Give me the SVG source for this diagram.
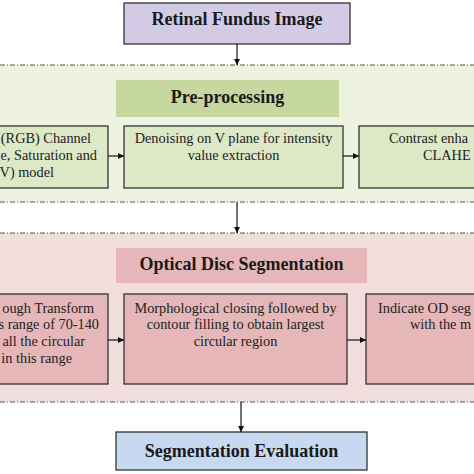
<svg xmlns="http://www.w3.org/2000/svg" width="474" height="474" viewBox="0 0 474 474">
<defs>
<marker id="ah" viewBox="0 0 10 10" refX="10" refY="5" markerWidth="6" markerHeight="6" markerUnits="userSpaceOnUse" orient="auto">
<path d="M0,0 L10,5 L0,10 z" fill="#111"/>
</marker>
<style>
.t{font-family:"Liberation Serif","Times New Roman",serif;font-size:14.3px;fill:#222}
.h{font-family:"Liberation Serif","Times New Roman",serif;font-size:18px;font-weight:bold;fill:#1a1a1a}
.box{stroke:#333;stroke-width:1.3}
.dash{stroke:#555;stroke-width:1;stroke-dasharray:5 2 1 2;fill:none}
.con{stroke:#111;stroke-width:1.2;fill:none;marker-end:url(#ah)}
</style>
</defs>
<rect width="474" height="474" fill="#ffffff"/>
<g id="preprocessing-region">
<rect x="0" y="65" width="474" height="137" fill="#eef2e1"/>
<line class="dash" x1="0" y1="65" x2="474" y2="65"/>
<line class="dash" x1="0" y1="202" x2="474" y2="202"/>
</g>
<g id="segmentation-region">
<rect x="0" y="233" width="474" height="169" fill="#f3dede"/>
<line class="dash" x1="0" y1="233" x2="474" y2="233"/>
<line class="dash" x1="0" y1="402" x2="474" y2="402"/>
</g>
<g id="retinal-fundus-image">
<rect class="box" x="124" y="3" width="226" height="41" fill="#d3cbe6"/>
<text class="h" x="237" y="25" text-anchor="middle">Retinal Fundus Image</text>
</g>
<g id="pre-processing-header">
<rect x="116" y="80" width="223" height="37" fill="#c6d8a0"/>
<text class="h" x="227.5" y="103" text-anchor="middle">Pre-processing</text>
</g>
<g id="hsv-convert">
<rect class="box" x="-20" y="126" width="128" height="62" fill="#dde8c7"/>
<text class="t" x="91" y="143" text-anchor="end">(RGB) Channel</text>
<text class="t" x="97" y="160" text-anchor="end">e, Saturation and</text>
<text class="t" x="54" y="177" text-anchor="end">V) model</text>
</g>
<g id="denoising">
<rect class="box" x="124" y="126" width="219" height="62" fill="#dde8c7"/>
<text class="t" x="233.5" y="143" text-anchor="middle">Denoising on V plane for intensity</text>
<text class="t" x="233.5" y="160" text-anchor="middle">value extraction</text>
</g>
<g id="clahe">
<rect class="box" x="359" y="126" width="140" height="62" fill="#dde8c7"/>
<text class="t" x="389" y="143">Contrast enha</text>
<text class="t" x="423" y="160">CLAHE</text>
</g>
<g id="od-header">
<rect x="116" y="248" width="251" height="35" fill="#e6b7b8"/>
<text class="h" x="241.5" y="270" text-anchor="middle">Optical Disc Segmentation</text>
</g>
<g id="hough">
<rect class="box" x="-20" y="294" width="128" height="90" fill="#e6b7b8"/>
<text class="t" x="94" y="313" text-anchor="end">ough Transform</text>
<text class="t" x="99" y="329" text-anchor="end">s range of 70-140</text>
<text class="t" x="85" y="346" text-anchor="end">all the circular</text>
<text class="t" x="72" y="363" text-anchor="end">in this range</text>
</g>
<g id="morphological">
<rect class="box" x="124" y="294" width="223" height="90" fill="#e6b7b8"/>
<text class="t" x="235.5" y="313" text-anchor="middle">Morphological closing followed by</text>
<text class="t" x="235.5" y="329" text-anchor="middle">contour filling to obtain largest</text>
<text class="t" x="235.5" y="346" text-anchor="middle">circular region</text>
</g>
<g id="indicate-od">
<rect class="box" x="366" y="294" width="140" height="90" fill="#e6b7b8"/>
<text class="t" x="378" y="313">Indicate OD seg</text>
<text class="t" x="410" y="329">with the m</text>
</g>
<g id="segmentation-evaluation">
<rect class="box" x="116" y="432" width="251" height="38" fill="#c6d9f0"/>
<text class="h" x="241.5" y="457" text-anchor="middle">Segmentation Evaluation</text>
</g>
<g id="connectors">
<line class="con" x1="237" y1="44" x2="237" y2="65"/>
<line class="con" x1="108" y1="156" x2="124" y2="156"/>
<line class="con" x1="343" y1="156" x2="359" y2="156"/>
<line class="con" x1="237" y1="202" x2="237" y2="233"/>
<line class="con" x1="108" y1="340" x2="124" y2="340"/>
<line class="con" x1="347" y1="340" x2="366" y2="340"/>
<line class="con" x1="241" y1="402" x2="241" y2="432"/>
</g>
</svg>
